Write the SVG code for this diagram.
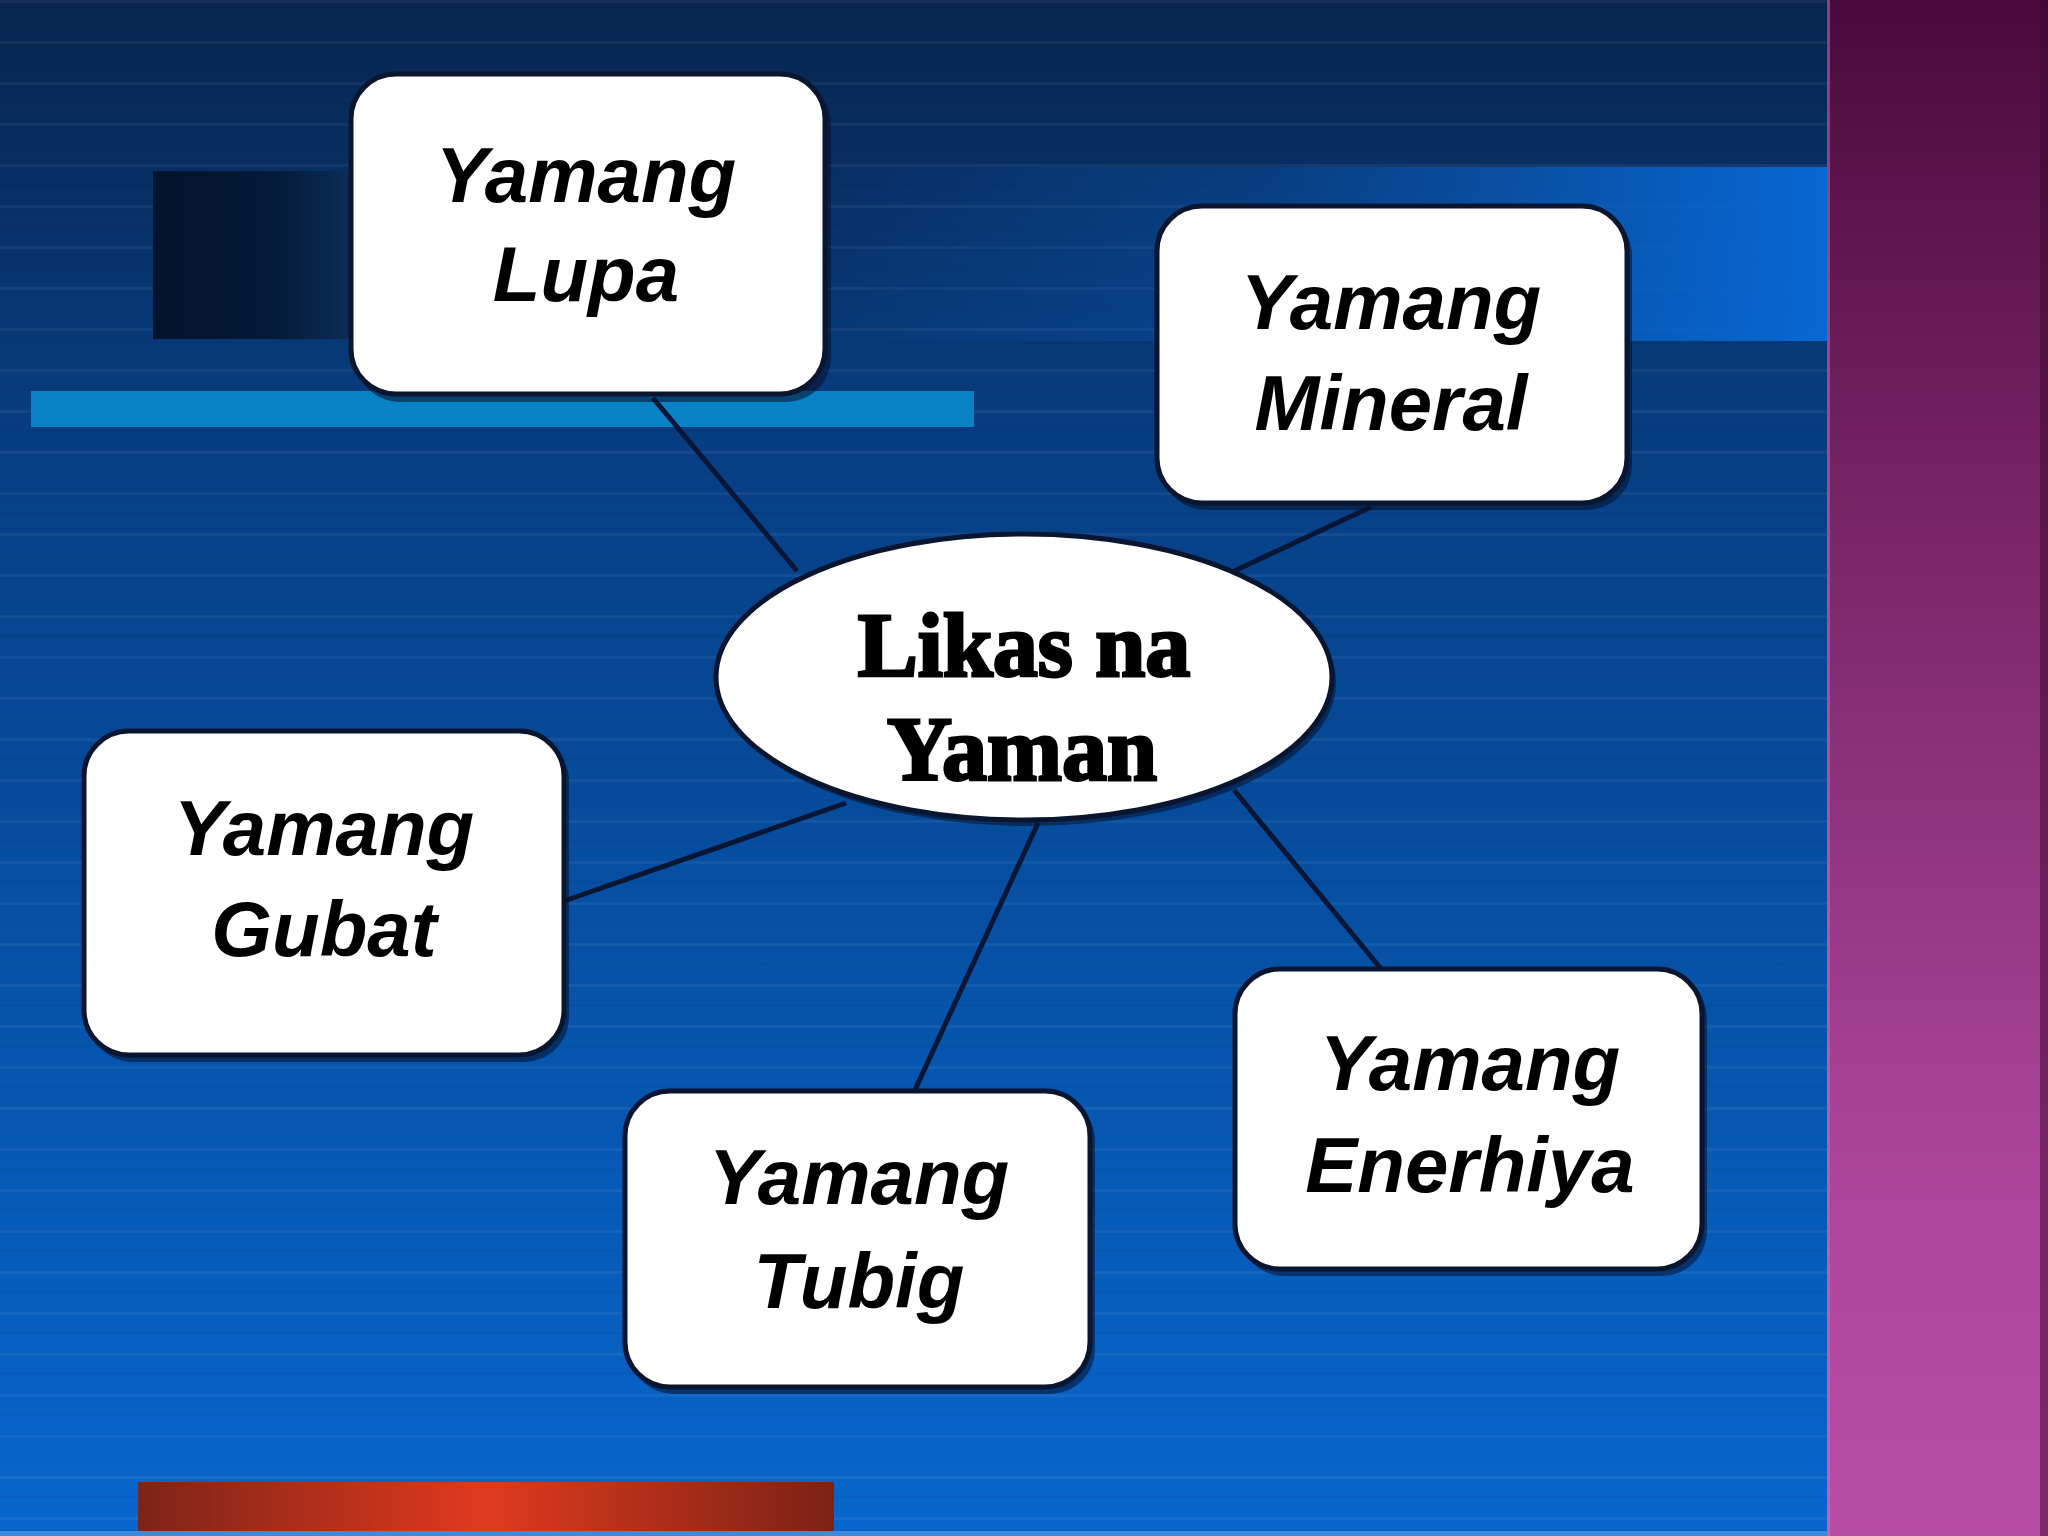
<svg xmlns="http://www.w3.org/2000/svg" width="2048" height="1536" viewBox="0 0 2048 1536">
  <defs>
    <linearGradient id="bg" x1="0" y1="0" x2="0" y2="1">
      <stop offset="0" stop-color="#08254f"/>
      <stop offset="0.3" stop-color="#073f84"/>
      <stop offset="0.65" stop-color="#0653aa"/>
      <stop offset="1" stop-color="#0866cc"/>
    </linearGradient>
    <linearGradient id="purple" x1="0" y1="0" x2="0" y2="1">
      <stop offset="0" stop-color="#4a0a3c"/>
      <stop offset="0.35" stop-color="#7a2668"/>
      <stop offset="0.75" stop-color="#aa4499"/>
      <stop offset="1" stop-color="#b84ea6"/>
    </linearGradient>
    <linearGradient id="band" x1="0" y1="0" x2="1" y2="0">
      <stop offset="0" stop-color="#0a62c8" stop-opacity="0"/>
      <stop offset="0.45" stop-color="#0a62c8" stop-opacity="0.3"/>
      <stop offset="1" stop-color="#0868d4" stop-opacity="1"/>
    </linearGradient>
    <linearGradient id="darkbox" x1="0" y1="0" x2="1" y2="0">
      <stop offset="0" stop-color="#03142c"/>
      <stop offset="0.6" stop-color="#041a38"/>
      <stop offset="1" stop-color="#0a2d58"/>
    </linearGradient>
    <linearGradient id="red" x1="0" y1="0" x2="1" y2="0">
      <stop offset="0" stop-color="#7c2418"/>
      <stop offset="0.5" stop-color="#e03a1e"/>
      <stop offset="1" stop-color="#7a2216"/>
    </linearGradient>
    <pattern id="stripes" width="40" height="41" patternUnits="userSpaceOnUse">
      <rect x="0" y="0" width="40" height="3" fill="#ffffff" fill-opacity="0.05"/>
      <rect x="0" y="20" width="40" height="2" fill="#000000" fill-opacity="0.04"/>
    </pattern>
    <style>
      .box { fill: #ffffff; stroke: #0a1530; stroke-width: 5; }
      .shadow { fill: #04102a; fill-opacity: 0.55; }
      .lbl { font-family: "Liberation Sans", Arial, sans-serif; font-style: italic; font-weight: bold; font-size: 78px; fill: #000000; text-anchor: middle; }
      .center { font-family: "Liberation Serif", "Times New Roman", serif; font-weight: bold; font-size: 90px; fill: #000000; stroke: #000000; stroke-width: 3; text-anchor: middle; }
      .conn { stroke: #0a1636; stroke-width: 5; fill: none; }
    </style>
  </defs>

  <!-- background -->
  <rect x="0" y="0" width="1827" height="1536" fill="url(#bg)"/>
  <rect x="0" y="0" width="1827" height="1536" fill="url(#stripes)"/>
  <rect x="820" y="167" width="1007" height="174" fill="url(#band)"/>
  <rect x="153" y="171" width="200" height="168" fill="url(#darkbox)"/>
  <rect x="31" y="391" width="943" height="36" fill="#0a82c6"/>
  <rect x="138" y="1482" width="696" height="50" fill="url(#red)"/>
  <rect x="0" y="1531" width="1827" height="5" fill="#3a8ae0"/>
  <rect x="1827" y="0" width="221" height="1536" fill="url(#purple)"/>
  <rect x="1827" y="0" width="3" height="1536" fill="#d070c0" fill-opacity="0.5"/>
  <rect x="2040" y="0" width="8" height="1536" fill="#3a0830" fill-opacity="0.5"/>

  <!-- connectors -->
  <g id="connectors">
    <line class="conn" x1="653" y1="398" x2="797" y2="571"/>
    <line class="conn" x1="1371" y1="507" x2="1234" y2="571"/>
    <line class="conn" x1="564" y1="901" x2="846" y2="803"/>
    <line class="conn" x1="914" y1="1092" x2="1038" y2="823"/>
    <line class="conn" x1="1382" y1="970" x2="1234" y2="790"/>
  </g>

  <g id="node-lupa">
    <rect class="shadow" x="355" y="80" width="476" height="322" rx="45"/>
    <rect class="box" x="351" y="74" width="474" height="320" rx="45"/>
    <text class="lbl" x="586" y="202">Yamang</text>
    <text class="lbl" x="586" y="301">Lupa</text>
  </g>

  <g id="node-mineral">
    <rect class="shadow" x="1161" y="211" width="471" height="299" rx="45"/>
    <rect class="box" x="1157" y="206" width="470" height="297" rx="45"/>
    <text class="lbl" x="1391" y="329">Yamang</text>
    <text class="lbl" x="1391" y="430">Mineral</text>
  </g>

  <g id="node-center">
    <ellipse class="shadow" cx="1028" cy="683" rx="308" ry="143"/>
    <ellipse cx="1024" cy="677" rx="308" ry="143" fill="#ffffff" stroke="#0a1530" stroke-width="5"/>
    <text class="center" x="1024" y="676">Likas na</text>
    <text class="center" x="1022" y="780">Yaman</text>
  </g>

  <g id="node-gubat">
    <rect class="shadow" x="88" y="736" width="481" height="326" rx="45"/>
    <rect class="box" x="84" y="731" width="480" height="324" rx="45"/>
    <text class="lbl" x="324" y="855">Yamang</text>
    <text class="lbl" x="324" y="956">Gubat</text>
  </g>

  <g id="node-tubig">
    <rect class="shadow" x="629" y="1096" width="466" height="298" rx="45"/>
    <rect class="box" x="625" y="1091" width="465" height="296" rx="45"/>
    <text class="lbl" x="859" y="1204">Yamang</text>
    <text class="lbl" x="859" y="1308">Tubig</text>
  </g>

  <g id="node-enerhiya">
    <rect class="shadow" x="1239" y="974" width="468" height="302" rx="45"/>
    <rect class="box" x="1235" y="969" width="467" height="300" rx="45"/>
    <text class="lbl" x="1470" y="1090">Yamang</text>
    <text class="lbl" x="1470" y="1192">Enerhiya</text>
  </g>
</svg>
